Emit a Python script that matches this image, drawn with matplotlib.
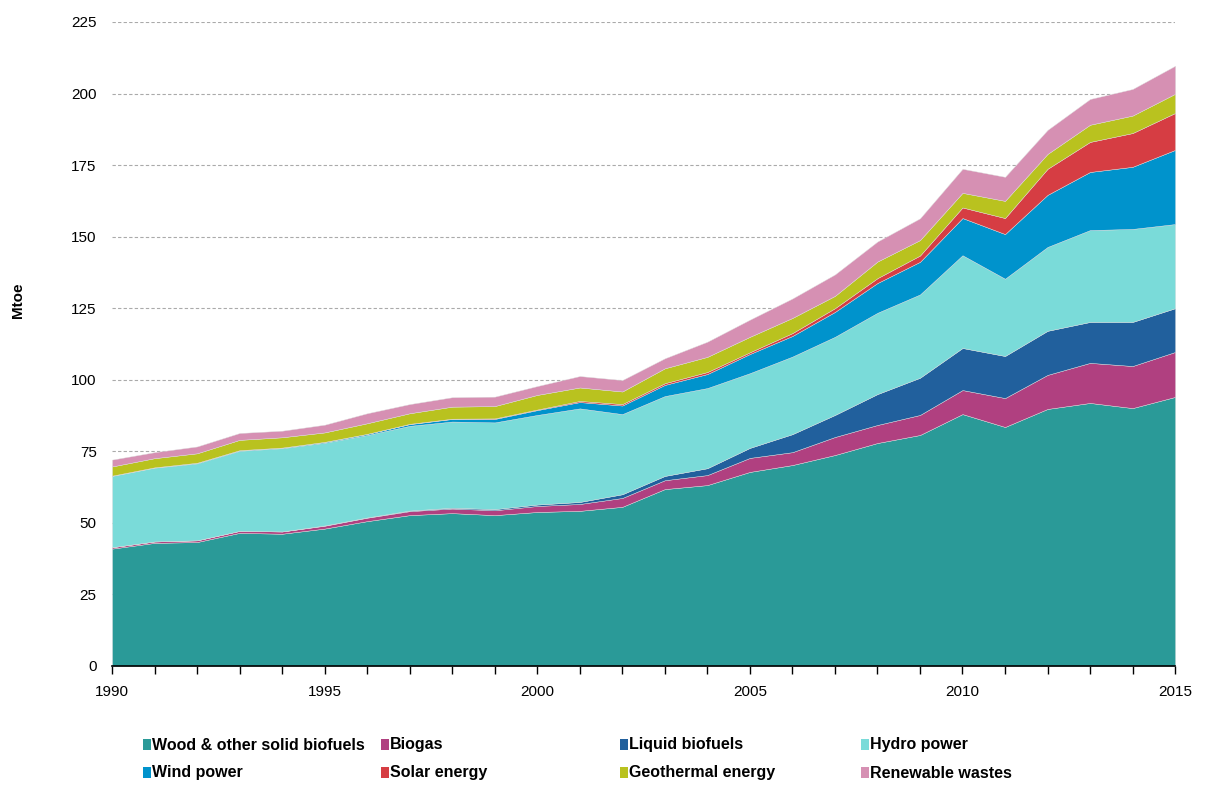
import matplotlib
matplotlib.use("Agg")
import matplotlib.pyplot as plt
from matplotlib.patches import Rectangle
import numpy as np

years = list(range(1990, 2016))
wood = [41.0, 43.0, 43.3, 46.5, 46.2, 48.0, 50.6, 52.7, 53.4, 52.7, 53.8, 54.2, 55.6,
        61.8, 63.2, 67.8, 70.2, 73.7, 77.9, 80.7, 88.0, 83.5, 89.8, 91.9, 90.1, 94.0]
biogas = [0.5, 0.5, 0.6, 0.7, 0.8, 1.0, 1.2, 1.4, 1.6, 1.7, 2.1, 2.4, 3.1,
          3.1, 3.5, 4.9, 4.5, 6.3, 6.3, 7.0, 8.4, 10.1, 11.9, 14.0, 14.7, 15.7]
liquid = [0.0, 0.0, 0.0, 0.0, 0.0, 0.1, 0.1, 0.2, 0.3, 0.4, 0.5, 0.7, 1.3,
          1.5, 2.4, 3.5, 6.3, 7.7, 10.8, 13.0, 14.7, 14.7, 15.4, 14.3, 15.4, 15.3]
hydro = [24.9, 25.8, 26.9, 28.0, 29.1, 28.9, 28.8, 29.6, 30.1, 30.3, 31.3, 32.7, 28.0,
         27.9, 28.0, 26.1, 27.1, 27.3, 28.4, 29.1, 32.4, 27.0, 29.3, 32.1, 32.5, 29.4]
wind = [0.1, 0.1, 0.2, 0.2, 0.2, 0.3, 0.4, 0.6, 0.9, 1.2, 1.7, 2.2, 3.0,
        3.9, 4.9, 6.7, 7.2, 8.7, 10.4, 11.4, 13.0, 15.6, 18.2, 20.3, 21.7, 25.9]
solar = [0.0, 0.0, 0.0, 0.0, 0.0, 0.0, 0.0, 0.1, 0.1, 0.2, 0.2, 0.4, 0.5,
         0.6, 0.7, 0.6, 1.0, 1.3, 1.7, 2.2, 3.7, 5.6, 9.1, 10.5, 11.8, 12.9]
geothermal = [3.2, 3.2, 3.3, 3.6, 3.6, 3.3, 3.7, 3.7, 4.2, 4.3, 5.1, 4.7, 4.4,
              5.2, 5.3, 5.4, 5.3, 4.3, 5.8, 5.4, 5.1, 6.0, 5.2, 6.0, 6.1, 6.7]
wastes = [2.4, 2.1, 2.4, 2.4, 2.3, 2.7, 3.5, 3.2, 3.3, 3.3, 3.1, 4.0, 4.0,
          3.5, 5.3, 6.0, 6.8, 7.5, 7.0, 7.6, 8.4, 8.4, 8.4, 9.0, 9.3, 9.8]

labels = ["Wood & other solid biofuels", "Biogas", "Liquid biofuels", "Hydro power",
          "Wind power", "Solar energy", "Geothermal energy", "Renewable wastes"]
colors = ["#2a9a98", "#b04080", "#21609d", "#7adbd9",
          "#0093cc", "#d63d43", "#b9c21f", "#d690b3"]
yticks = [0, 25, 50, 75, 100, 125, 150, 175, 200, 225]
xticklabels = [1990, 1995, 2000, 2005, 2010, 2015]

plt.rcParams['font.family'] = ['Liberation Sans', 'DejaVu Sans']

fig = plt.figure(figsize=(12.19, 7.97), dpi=100)
ax = fig.add_axes([0.0919, 0.1644, 0.8721, 0.8080])

series = [wood, biogas, liquid, hydro, wind, solar, geothermal, wastes]
polys = ax.stackplot(years, *series, colors=colors, labels=labels,
                     edgecolor='#dddddd', linewidth=0.3)

ax.set_xlim(1990, 2015)
ax.set_ylim(0, 225)
ax.set_yticks(yticks)
ax.set_yticklabels([str(v) for v in yticks], fontsize=11)
ax.set_xticks(xticklabels)
ax.set_xticklabels([str(v) for v in xticklabels], fontsize=11)
ax.set_xticks(years, minor=True)
ax.tick_params(axis='x', which='both', direction='out', length=6, width=1, color='black', pad=8)
ax.tick_params(axis='y', length=0, pad=11)
ax.yaxis.grid(True, linestyle=(0, (3, 2)), color='#aaaaaa', linewidth=0.8)
ax.set_axisbelow(True)
for s in ['top', 'right', 'left']:
    ax.spines[s].set_visible(False)
ax.spines['bottom'].set_linewidth(1.2)

W, H = 1219.0, 797.0
fig.text(18 / W, 1 - 300 / H, "Mtoe", fontsize=11, fontweight='bold',
         rotation=90, ha='center', va='center')

# legend laid out as in reference (2 rows x 4 columns)
col_x = [143, 381, 620, 861]
row_y = [745, 773]
for i, (lab, col) in enumerate(zip(labels, colors)):
    r, c = divmod(i, 4)
    x = col_x[c]
    y = row_y[r]
    fig.add_artist(Rectangle((x / W, 1 - (y + 5) / H), 8 / W, 11 / H,
                             transform=fig.transFigure, facecolor=col, edgecolor='none'))
    fig.text((x + 9) / W, 1 - y / H, lab, fontsize=11.5, fontweight='bold',
             family=['Liberation Sans Narrow', 'Liberation Sans', 'DejaVu Sans'],
             va='center', ha='left')

fig.savefig("out.png", dpi=100)
